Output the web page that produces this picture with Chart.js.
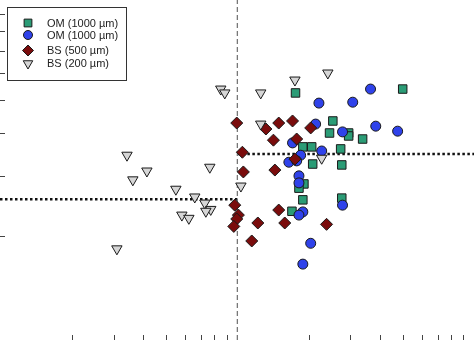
<!DOCTYPE html>
<html lang="en">
<head>
    <meta charset="UTF-8">
    <title>Scatter</title>
    <script src="https://cdn.jsdelivr.net/npm/chart.js"></script>
    <style>
        body {
            margin: 0;
            background-color: #fff;
        }
        #chart-container {
            width: 474px;
            height: 340px;
            position: relative;
        }
    </style>
</head>
<body>
    <div id="chart-container">
        <canvas id="scatter-chart"></canvas>
    </div>

    <script>
        // axis ranges and tick values (log scales)
        const xRange = [0.995, 99.8];
        const yRange = [0.987, 9.87];
        const xTicks = [2, 3, 4, 5, 6, 7, 8, 9, 20, 30, 40, 50, 60, 70, 80, 90];
        const yTicks = [2, 3, 4, 5, 6, 7, 8, 9];

        // reference lines
        const splitX = 10;
        const leftLevel = 2.56;
        const rightLevel = 3.48;

        const legendLabels = ['OM (1000 µm)', 'OM (1000 µm)', 'BS (500 µm)', 'BS (200 µm)'];

        // OM squares
        const omSquareX = [49.9, 17.6, 25.3, 24.5, 29.5, 29.5, 33.8, 18.9, 20.6, 27.3, 20.8, 27.6, 19.1, 18.2, 18.9, 27.6, 17.0];
        const omSquareY = [5.40, 5.26, 4.35, 4.01, 4.01, 3.93, 3.85, 3.65, 3.65, 3.60, 3.25, 3.23, 2.84, 2.76, 2.55, 2.58, 2.36];

        // OM circles
        const omCircleX = [36.5, 22.1, 30.7, 21.4, 38.4, 47.5, 27.8, 17.1, 22.7, 18.5, 16.5, 17.8, 18.2, 18.2, 27.8, 18.9, 18.2, 20.4, 18.9];
        const omCircleY = [5.40, 4.91, 4.94, 4.26, 4.20, 4.06, 4.04, 3.75, 3.55, 3.45, 3.29, 3.32, 3.00, 2.86, 2.46, 2.35, 2.30, 1.90, 1.65];

        // BS 500
        const bs500X = [14.95, 17.1, 13.2, 20.4, 14.2, 17.8, 17.5, 14.4, 14.95, 12.2, 15.85, 23.8, 11.5, 9.94, 10.5, 10.6, 9.75, 10.1, 9.94, 9.66];
        const bs500Y = [4.29, 4.35, 4.12, 4.15, 3.82, 3.85, 3.36, 3.12, 2.38, 2.18, 2.18, 2.16, 1.93, 4.29, 3.52, 3.08, 2.46, 2.30, 2.24, 2.13];

        // BS 200
        const bs200X = [8.51, 8.85, 12.55, 12.55, 3.42, 7.65, 4.15, 3.62, 5.50, 10.35, 6.61, 7.29, 7.72, 7.36, 5.83, 6.24, 3.10, 17.5, 24.1, 22.7];
        const bs200Y = [5.40, 5.26, 5.26, 4.26, 3.45, 3.18, 3.10, 2.92, 2.74, 2.80, 2.60, 2.495, 2.39, 2.36, 2.30, 2.25, 1.83, 5.74, 6.02, 3.38];

        const toPoints = (xs, ys) => xs.map((x, i) => ({ x: x, y: ys[i] }));

        const markerStyles = [
            { pointStyle: 'rect', radius: 6, rotation: 0, color: '#2b9c76' },
            { pointStyle: 'circle', radius: 5, rotation: 0, color: '#2f42ea' },
            { pointStyle: 'rectRot', radius: 6, rotation: 0, color: '#7a0c0c' },
            { pointStyle: 'triangle', radius: 6, rotation: 180, color: '#d6d6d6' }
        ];

        function markerDataset(points, style) {
            return {
                type: 'scatter',
                data: points,
                pointStyle: style.pointStyle,
                pointRadius: style.radius,
                pointRotation: style.rotation,
                backgroundColor: style.color,
                borderColor: '#1a1a1a',
                borderWidth: 1,
                order: 1
            };
        }

        function lineDataset(points, color, width, dash) {
            return {
                type: 'line',
                data: points,
                borderColor: color,
                borderWidth: width,
                borderDash: dash,
                pointRadius: 0,
                fill: false,
                order: 10
            };
        }

        // inward tick marks and legend box
        const decorPlugin = {
            id: 'decor',
            afterDatasetsDraw(chart) {
                const ctx = chart.ctx;
                const xs = chart.scales.x, ys = chart.scales.y;
                const area = chart.chartArea;
                ctx.save();
                ctx.strokeStyle = '#444';
                ctx.lineWidth = 1;
                ctx.beginPath();
                xTicks.forEach(v => {
                    const px = Math.round(xs.getPixelForValue(v)) + 0.5;
                    ctx.moveTo(px, area.bottom);
                    ctx.lineTo(px, area.bottom - 5);
                });
                yTicks.forEach(v => {
                    const py = Math.round(ys.getPixelForValue(v)) + 0.5;
                    ctx.moveTo(area.left, py);
                    ctx.lineTo(area.left + 5, py);
                });
                ctx.stroke();

                // legend
                ctx.fillStyle = '#fff';
                ctx.fillRect(7.5, 7.5, 119, 73);
                ctx.strokeStyle = '#333';
                ctx.strokeRect(7.5, 7.5, 119, 73);
                const rows = [23, 35, 50.5, 63.5];
                ctx.font = '11px "Liberation Sans", Arial, sans-serif';
                ctx.textBaseline = 'middle';
                markerStyles.forEach((s, i) => {
                    ctx.fillStyle = s.color;
                    ctx.strokeStyle = '#1a1a1a';
                    Chart.helpers.drawPoint(ctx, {
                        pointStyle: s.pointStyle,
                        radius: s.radius - 0.5,
                        rotation: s.rotation,
                        borderWidth: 1
                    }, 28, rows[i]);
                    ctx.fillStyle = '#222';
                    ctx.fillText(legendLabels[i], 47, rows[i] + 0.5);
                });
                ctx.restore();
            }
        };

        const ctx = document.getElementById('scatter-chart').getContext('2d');
        new Chart(ctx, {
            data: {
                datasets: [
                    lineDataset([{ x: splitX, y: yRange[0] }, { x: splitX, y: yRange[1] }], '#777', 1.3, [5, 3]),
                    lineDataset([{ x: xRange[0], y: leftLevel }, { x: splitX, y: leftLevel }], '#111', 2.5, [2.5, 2.5]),
                    lineDataset([{ x: splitX, y: rightLevel }, { x: xRange[1], y: rightLevel }], '#111', 2.5, [2.5, 2.5]),
                    markerDataset(toPoints(bs200X, bs200Y), markerStyles[3]),
                    markerDataset(toPoints(bs500X, bs500Y), markerStyles[2]),
                    markerDataset(toPoints(omCircleX, omCircleY), markerStyles[1]),
                    markerDataset(toPoints(omSquareX, omSquareY), markerStyles[0])
                ]
            },
            options: {
                responsive: true,
                maintainAspectRatio: false,
                animation: false,
                layout: { padding: 0, autoPadding: false },
                plugins: {
                    legend: { display: false },
                    tooltip: { enabled: false }
                },
                scales: {
                    x: {
                        type: 'logarithmic',
                        min: xRange[0],
                        max: xRange[1],
                        display: false
                    },
                    y: {
                        type: 'logarithmic',
                        min: yRange[0],
                        max: yRange[1],
                        display: false
                    }
                }
            },
            plugins: [decorPlugin]
        });
    </script>
</body>
</html>
